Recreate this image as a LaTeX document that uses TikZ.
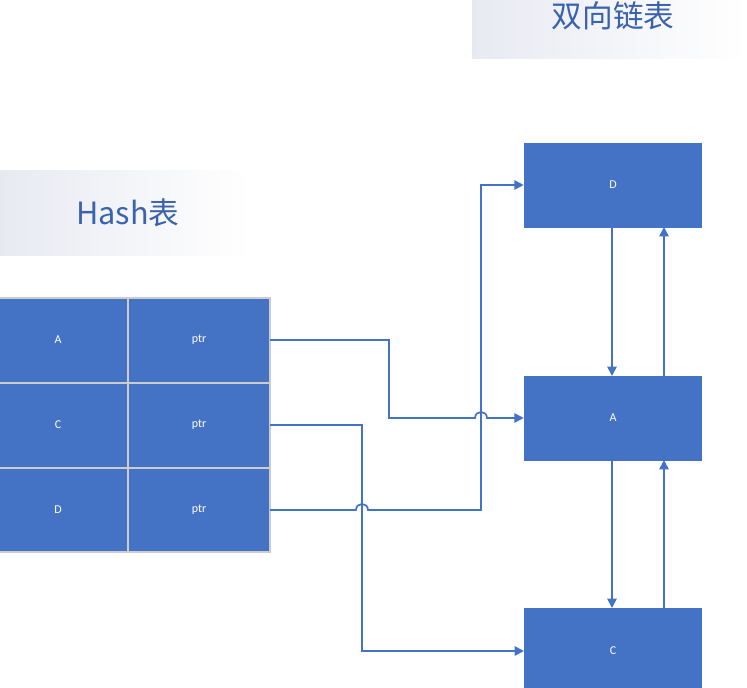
\documentclass[tikz,border=0pt]{standalone}
\usepackage{fontspec}
\usetikzlibrary{arrows.meta}
\setmainfont{Carlito}
\newfontfamily\cjk{Noto Sans CJK SC}
\definecolor{bx}{HTML}{4472C4}
\definecolor{tt}{HTML}{3A62AE}
\definecolor{gr}{HTML}{E8EAF2}
\begin{document}
\begin{tikzpicture}[x=0.75pt,y=-0.75pt,
  cell/.style={fill=bx,draw=gray!40,line width=0.8pt,text=white,font=\fontsize{9}{10}\selectfont,inner sep=0pt},
  lbox/.style={fill=bx,draw=none,text=white,font=\fontsize{9}{10}\selectfont,minimum width=133.5pt,minimum height=63.75pt,inner sep=0pt},
  conn/.style={draw=bx,line width=1.3pt},
  arr/.style={conn,-{Triangle[length=7pt,width=7pt]}}]
\useasboundingbox (0,0) rectangle (747,687);
% title backgrounds
\shade[left color=gr,right color=white] (472,0) rectangle (747,58);
\shade[left color=gr,right color=white] (0,170) rectangle (250,255);
\node[text=tt,font=\cjk\fontsize{23}{26}\selectfont] (t1) at (613,16) {双向链表};
\node[text=tt,font=\cjk\fontsize{23}{26}\selectfont] (t2) at (128,213) {Hash表};
% table
\path[cell] (-2,298) rectangle (128,383) (128,298) rectangle (270,383)
  (-2,383) rectangle (128,468) (128,383) rectangle (270,468)
  (-2,468) rectangle (128,552) (128,468) rectangle (270,552);
\node[cell,draw=none,fill=none] (ka) at (58,340) {A};
\node[cell,draw=none,fill=none] (kc) at (58,425) {C};
\node[cell,draw=none,fill=none] (kd) at (58,510) {D};
\node[cell,draw=none,fill=none] (pa) at (199,340) {ptr};
\node[cell,draw=none,fill=none] (pc) at (199,425) {ptr};
\node[cell,draw=none,fill=none] (pd) at (199,510) {ptr};
\coordinate (pae) at (270,340);
\coordinate (pce) at (270,425);
\coordinate (pde) at (270,510);
% list boxes
\node[lbox] (d) at (613,185) {D};
\node[lbox] (a) at (613,418) {A};
\fill[bx] (524,608) rectangle (702,690);
\node[text=white,font=\fontsize{9}{10}\selectfont] (c) at (613,651) {C};
\coordinate (ctop) at (613,608);
% list arrows
\draw[arr] (612,227) -- (612,376);
\draw[arr] (664,376) -- (664,227);
\draw[arr] (612,460) -- (612,608);
\draw[arr] (664,608) -- (664,460);
% connectors
\draw[arr] (pae) -- (389,340) -- (389,418) -- (475,418) .. controls (475,410) and (487,410) .. (487,418) -- (a.west);
\draw[arr] (pce) -- (362,425) -- (362,651) -- (524,651);
\draw[arr] (pde) -- (356,510) .. controls (356,502) and (368,502) .. (368,510) -- (481,510) -- (481,185) -- (d.west);
\end{tikzpicture}
\end{document}
